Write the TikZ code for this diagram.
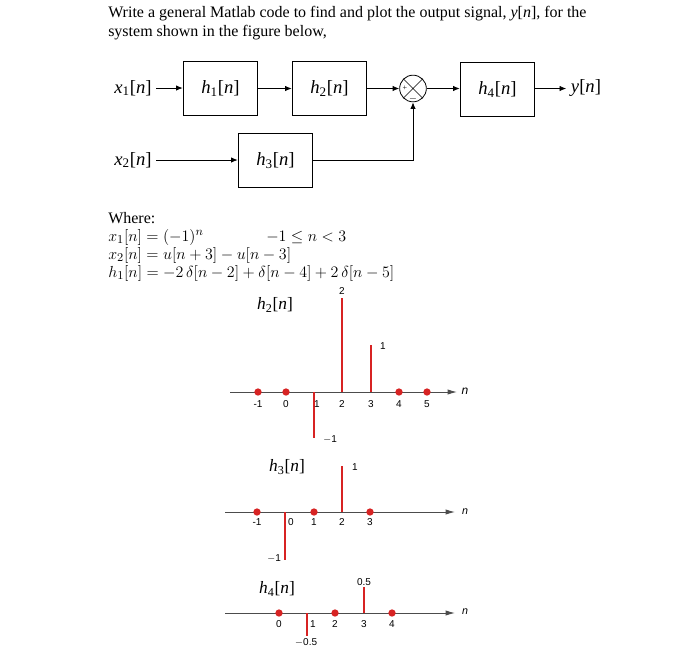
\documentclass[tikz,border=0pt]{standalone}
\usepackage{fontspec}
\setmainfont{Liberation Serif}
\newfontfamily\axf{Liberation Sans}
\usetikzlibrary{arrows.meta}
\definecolor{stemred}{RGB}{215,35,35}
\newcommand{\sgl}[2]{\textit{#1}\textsubscript{#2}[\textit{n}]}
\begin{document}
\begin{tikzpicture}[x=0.75pt,y=-0.75pt,
  blk/.style={draw,line width=0.6pt,minimum width=56pt,minimum height=40pt,font=\fontsize{14}{14}\selectfont},
  sig/.style={font=\fontsize{14}{14}\selectfont},
  pl/.style={font=\fontsize{13}{13}\selectfont},
  con/.style={-{Latex[length=5pt,width=4pt]},line width=0.6pt},
  ax/.style={-{Latex[length=7pt,width=4pt]},line width=0.7pt,gray!60!black},
  stm/.style={stemred,line width=1.4pt},
  dt/.style={circle,fill=stemred,inner sep=0pt,minimum size=5.5pt},
  tl/.style={font=\axf\fontsize{7.5}{8}\selectfont},
  tx/.style={anchor=west,font=\fontsize{12}{14}\selectfont,inner sep=0pt},
  mx/.style={anchor=west,font=\fontsize{13}{13}\selectfont,inner sep=0pt}]
\useasboundingbox (0,0) rectangle (700,654);
% title
\node[tx] (t1) at (108,14) {Write a general Matlab code to find and plot the output signal, \textit{y}[\textit{n}], for the};
\node[tx] (t2) at (108,33) {system shown in the figure below,};
% block diagram
\node[sig] (x1) at (133,88) {\sgl{x}{1}};
\node[blk] (h1) at (220.5,88.5) {\sgl{h}{1}};
\node[blk] (h2) at (329.5,88.5) {\sgl{h}{2}};
\node[draw,circle,minimum size=20pt,inner sep=0pt,line width=0.6pt] (s) at (413,88.5) {};
\draw[line width=0.5pt] (s.north west) -- (s.south east) (s.north east) -- (s.south west);
\node[font=\fontsize{6}{6}\selectfont] (sp) at (405,88.5) {+};
\node[font=\fontsize{7}{7}\selectfont] (sm) at (413,99) {$-$};
\node[blk] (h4) at (497.5,89.5) {\sgl{h}{4}};
\node[sig] (y) at (586,88.5) {\textit{y}[\textit{n}]};
\node[sig] (x2) at (133,160) {\sgl{x}{2}};
\node[blk] (h3) at (275.5,160.5) {\sgl{h}{3}};
\draw[con] (x1.east) -- (h1.west|-x1.east);
\draw[con] (h1.east|-s) -- (h2.west|-s);
\draw[con] (h2.east|-s) -- (s.west);
\draw[con] (s.east) -- (h4.west|-s);
\draw[con] (h4.east|-s) -- (y.west|-s);
\draw[con] (x2.east) -- (h3.west|-x2.east);
\draw[con] (h3.east|-x2.east) -| (s.south);
% where
\node[tx] (w0) at (108,218) {Where:};
\node[mx] (w1) at (108,237) {$x_1[n]=(-1)^n$};
\node[mx] (w1b) at (266,237) {$-1\le n<3$};
\node[mx] (w2) at (108,255) {$x_2[n]=u[n+3]-u[n-3]$};
\node[mx] (w3) at (108,273) {$h_1[n]=-2\,\delta[n-2]+\delta[n-4]+2\,\delta[n-5]$};
% h2 plot
\draw[ax] (230,392) -- (457,392);
\node[font=\axf\itshape\fontsize{9}{9}\selectfont] (n2) at (465,391) {n};
\node[pl] (lh2) at (275,305) {\sgl{h}{2}};
\draw[stm] (342,392) -- (342,298); \node[tl] (v2a) at (342,291) {2};
\draw[stm] (371,392) -- (371,345); \node[tl] (v2b) at (383,346) {1};
\draw[stm] (314,392) -- (314,438); \node[tl] (v2c) at (330,440) {$-$1};
\foreach \x/\l in {258/-1,286/0,399/4,427/5} {\node[dt] at (\x,392) {}; \node[tl] at (\x,404) {\l};}
\foreach \x/\l in {317/1,342/2,371/3} {\node[tl] at (\x,404) {\l};}
% h3 plot
\draw[ax] (225,512) -- (455,512);
\node[font=\axf\itshape\fontsize{8}{8}\selectfont] (n3) at (465,512) {n};
\node[pl] (lh3) at (287,467) {\sgl{h}{3}};
\draw[stm] (342,512) -- (342,466); \node[tl] (v3a) at (355,467) {1};
\draw[stm] (285,512) -- (285,560); \node[tl] (v3b) at (274,559) {$-$1};
\foreach \x/\l in {257/-1,314/1,370/3} {\node[dt] at (\x,512) {}; \node[tl] at (\x,522) {\l};}
\foreach \x/\l in {291/0,342/2} {\node[tl] at (\x,522) {\l};}
% h4 plot
\draw[ax] (225,613) -- (455,613);
\node[font=\axf\itshape\fontsize{8}{8}\selectfont] (n4) at (465,612) {n};
\node[pl] (lh4) at (277,589) {\sgl{h}{4}};
\draw[stm] (364,613) -- (364,587); \node[tl] (v4a) at (364,582) {0.5};
\draw[stm] (307,613) -- (307,636); \node[tl] (v4b) at (306,643) {$-$0.5};
\foreach \x/\l in {279/0,335/2,392/4} {\node[dt] at (\x,613) {}; \node[tl] at (\x,624) {\l};}
\foreach \x/\l in {313/1,364/3} {\node[tl] at (\x,624) {\l};}
\end{tikzpicture}
\end{document}
